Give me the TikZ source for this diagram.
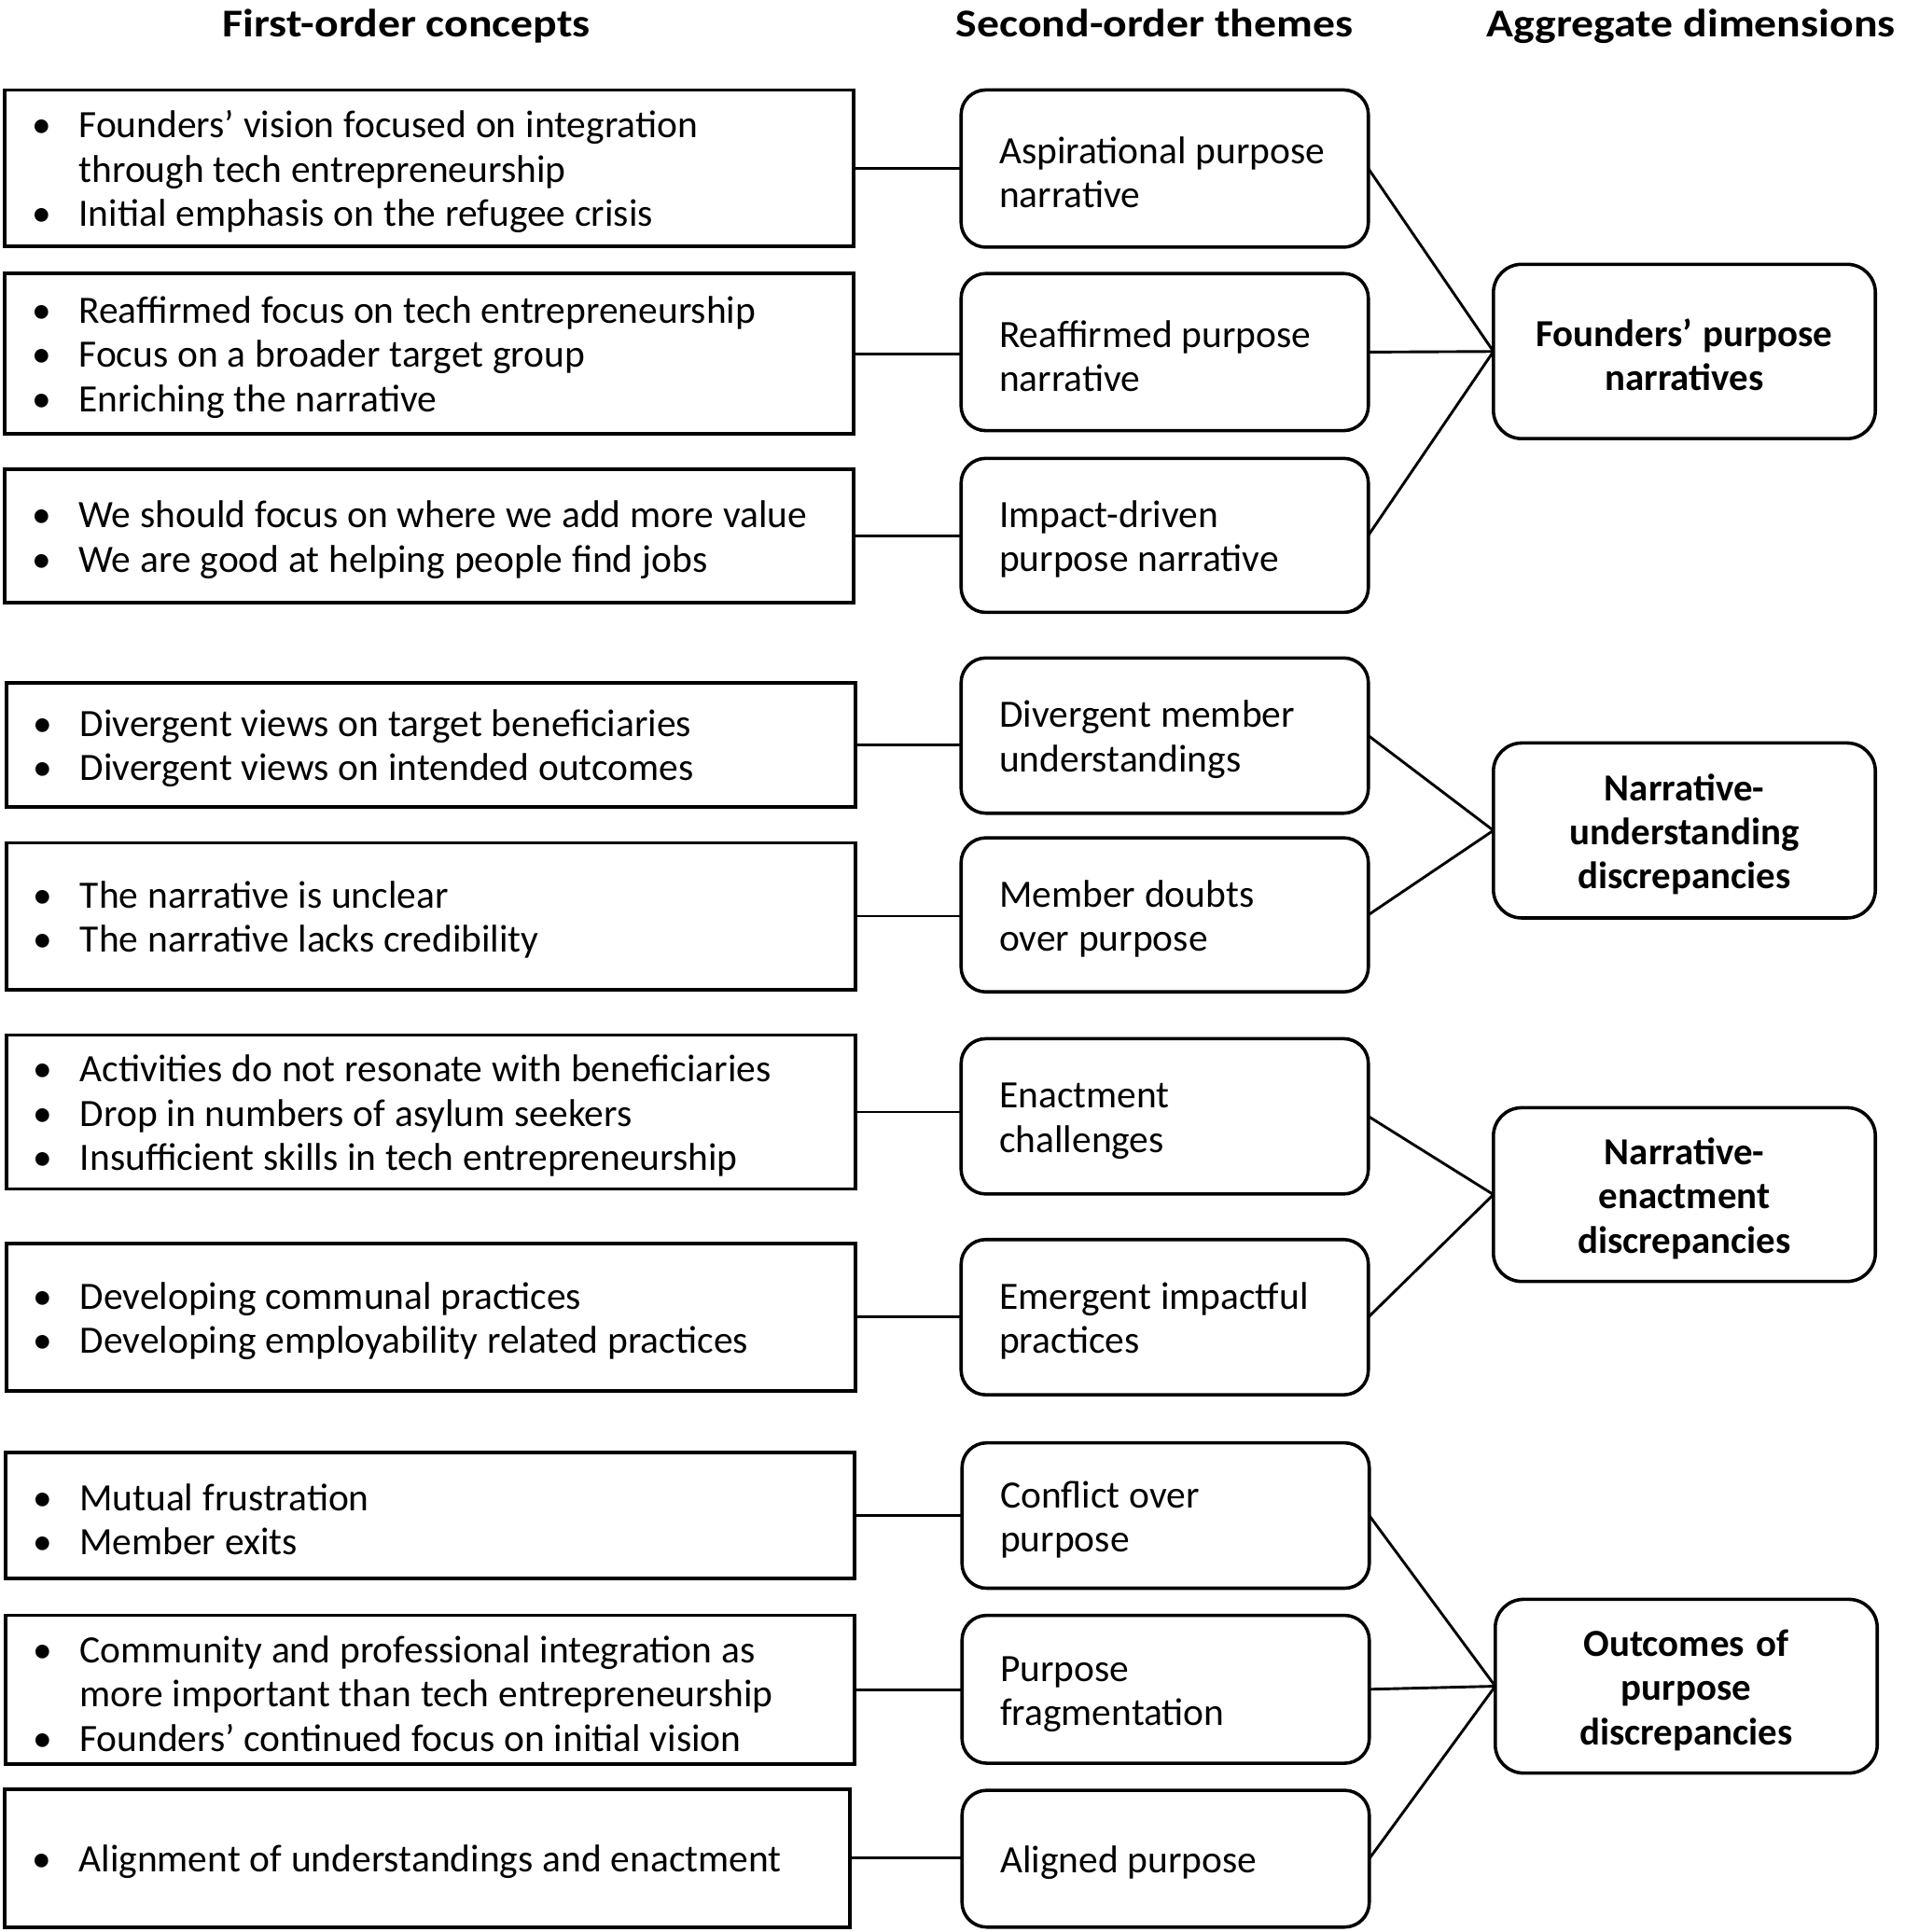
\documentclass[tikz,border=0pt]{standalone}
\usepackage{fontspec}
\usepackage{graphicx}
\setmainfont{Carlito}
\newcommand\myBody{\fontsize{15.7pt}{17.9pt}\selectfont}
\newcommand\myHdr{\fontsize{16pt}{19pt}\selectfont\bfseries}
\newcommand\bitem[1]{\makebox[19pt][l]{•}\mbox{#1}}
\newcommand\bcont[1]{\hspace*{19pt}\mbox{#1}}
\begin{document}
\begin{tikzpicture}[x=0.5pt,y=-0.5pt,
  every node/.style={inner sep=0pt, outer sep=0pt, font=\myBody},
  hdr/.style={anchor=base, font=\myHdr},
  boxtext/.style={execute at begin node={\spaceskip=3.75pt plus 1pt minus 0.5pt\relax\rule{0pt}{14pt}}},
  concept/.style={draw, line width=1.45pt, rectangle, minimum width=344.5pt,
    text width=322.5pt, inner xsep=11pt, align=left, boxtext},
  theme/.style={draw, line width=1.35pt, rectangle, rounded corners=10pt,
    minimum width=165.25pt, text width=134.25pt, inner xsep=15.5pt, align=left, boxtext},
  dimbox/.style={draw, line width=1.35pt, rectangle, rounded corners=11.5pt,
    minimum width=155pt, text width=139pt, inner xsep=8pt, align=center,
    font=\fontsize{15.5pt}{17.9pt}\selectfont\bfseries, boxtext},
  conn/.style={line width=1.1pt}]
\useasboundingbox (0,0) rectangle (1545.3,1568);

% headers
\node[hdr] (h1) at (330,30) {\scalebox{1.13}[1]{First-order concepts}};
\node[hdr] (h2) at (937,30) {\scalebox{1.13}[1]{Second-order themes}};
\node[hdr] (h3) at (1372.5,30) {\scalebox{1.13}[1]{Aggregate dimensions}};

% first-order concepts
\node[concept, minimum height=63.5pt] (L1) at (348.5,136.5)
  {\bitem{Founders’ vision focused on integration}\\\bcont{through tech entrepreneurship}\\\bitem{Initial emphasis on the refugee crisis}};
\node[concept, minimum height=65pt] (L2) at (348.5,287)
  {\bitem{Reaffirmed focus on tech entrepreneurship}\\\bitem{Focus on a broader target group}\\\bitem{Enriching the narrative}};
\node[concept, minimum height=54pt] (L3) at (348.5,435)
  {\bitem{We should focus on where we add more value}\\\bitem{We are good at helping people find jobs}};
\node[concept, minimum height=50.5pt] (L4) at (349.5,604.5)
  {\bitem{Divergent views on target beneficiaries}\\\bitem{Divergent views on intended outcomes}};
\node[concept, minimum height=59.5pt] (L5) at (349.5,743.5)
  {\bitem{The narrative is unclear}\\\bitem{The narrative lacks credibility}};
\node[concept, minimum height=62.5pt] (L6) at (349.5,902.5)
  {\bitem{Activities do not resonate with beneficiaries}\\\bitem{Drop in numbers of asylum seekers}\\\bitem{Insufficient skills in tech entrepreneurship}};
\node[concept, minimum height=60pt] (L7) at (349.5,1069)
  {\bitem{Developing communal practices}\\\bitem{Developing employability related practices}};
\node[concept, minimum height=51pt] (L8) at (349,1230)
  {\bitem{Mutual frustration}\\\bitem{Member exits}};
\node[concept, minimum height=60.5pt] (L9) at (349,1371.5)
  {\bitem{Community and professional integration as}\\\bcont{more important than tech entrepreneurship}\\\bitem{Founders’ continued focus on initial vision}};
\node[concept, minimum height=56pt, minimum width=343pt, text width=321pt] (L10) at (347,1508)
  {\bitem{Alignment of understandings and enactment}};

% second-order themes
\node[theme, minimum height=63.8pt] (M1) at (945.25,136.8) {\mbox{Aspirational purpose}\\narrative};
\node[theme, minimum height=63.75pt] (M2) at (945.25,285.75) {\mbox{Reaffirmed purpose}\\narrative};
\node[theme, minimum height=62.5pt] (M3) at (945.25,434.5) {Impact-driven\\\mbox{purpose narrative}};
\node[theme, minimum height=63pt] (M4) at (945.25,597) {\mbox{Divergent member}\\understandings};
\node[theme, minimum height=62.5pt] (M5) at (945.25,742.5) {Member doubts\\over purpose};
\node[theme, minimum height=63pt] (M6) at (945.25,906) {Enactment\\challenges};
\node[theme, minimum height=63pt] (M7) at (945.25,1069) {\mbox{Emergent impactful}\\practices};
\node[theme, minimum height=59pt] (M8) at (946,1230) {Conflict over\\purpose};
\node[theme, minimum height=60pt] (M9) at (946,1371) {Purpose\\fragmentation};
\node[theme, minimum height=55.5pt] (M10) at (946,1508.5) {Aligned purpose};

% aggregate dimensions
\node[dimbox, minimum height=70.75pt] (R1) at (1367,285.25) {Founders’ purpose\\narratives};
\node[dimbox, minimum height=71pt] (R2) at (1367,674) {Narrative-\\understanding\\discrepancies};
\node[dimbox, minimum height=70.5pt] (R3) at (1367,969.5) {Narrative-\\enactment\\discrepancies};
\node[dimbox, minimum height=70.5pt] (R4) at (1368.5,1368.5) {Outcomes of\\purpose\\discrepancies};

% connectors: concepts to themes
\foreach \i in {1,...,10} {
  \draw[conn] (L\i.east) -- (L\i.east -| M\i.west);
}
% connectors: themes to dimensions
\draw[conn] (M1.east) -- (R1.west);
\draw[conn] (M2.east) -- (R1.west);
\draw[conn] (M3.east) -- (R1.west);
\draw[conn] (M4.east) -- (R2.west);
\draw[conn] (M5.east) -- (R2.west);
\draw[conn] (M6.east) -- (R3.west);
\draw[conn] (M7.east) -- (R3.west);
\draw[conn] (M8.east) -- (R4.west);
\draw[conn] (M9.east) -- (R4.west);
\draw[conn] (M10.east) -- (R4.west);
\end{tikzpicture}
\end{document}
